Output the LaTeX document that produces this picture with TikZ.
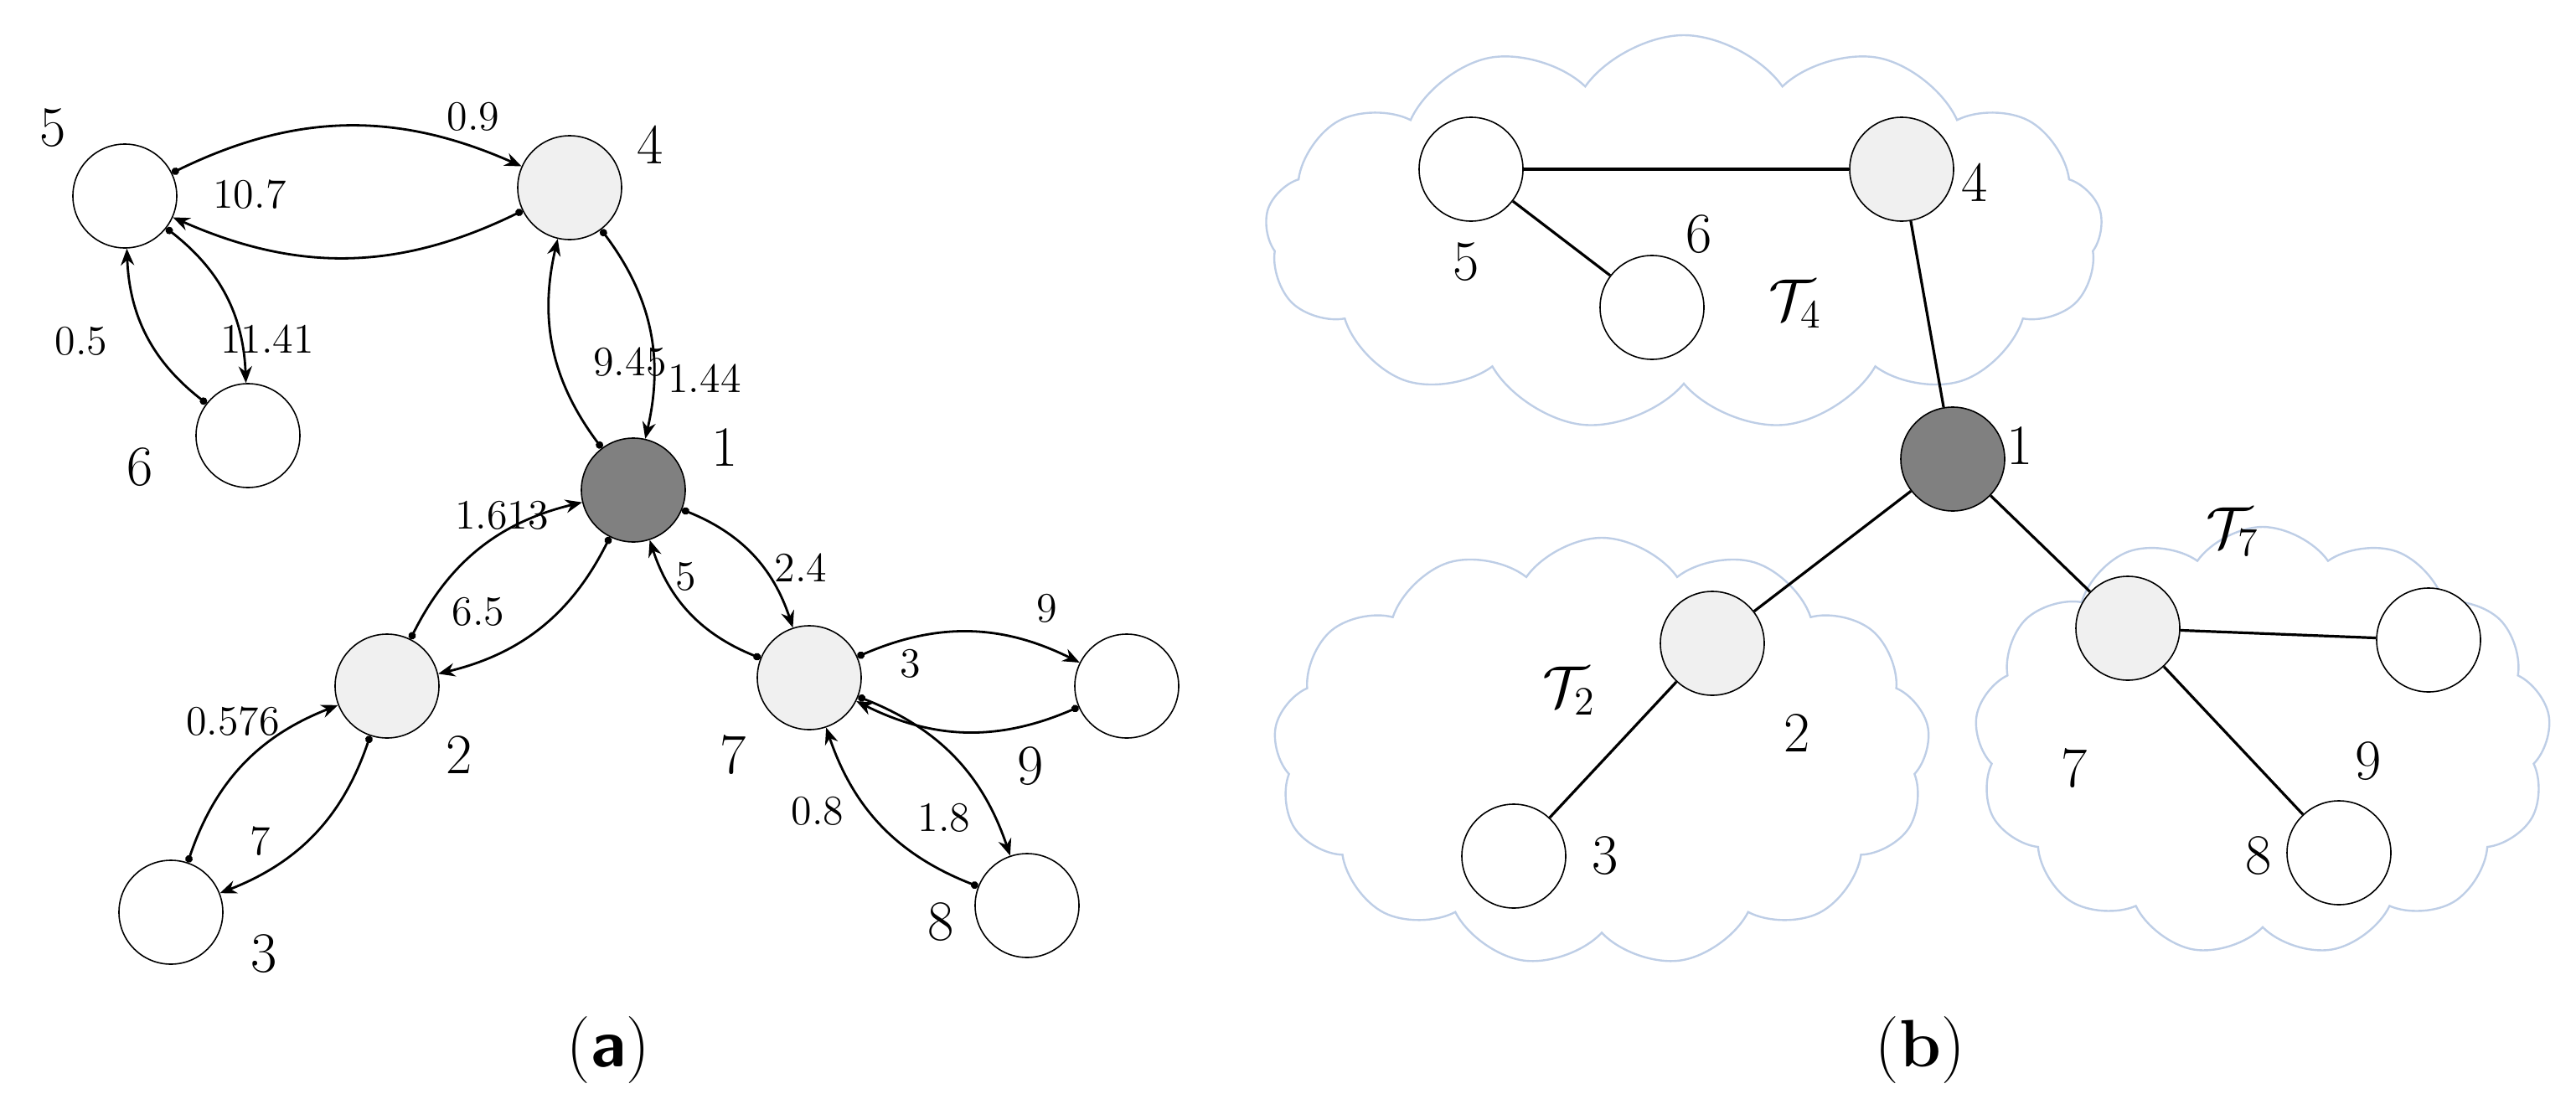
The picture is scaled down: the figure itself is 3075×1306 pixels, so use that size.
\documentclass[tikz,border=0pt]{standalone}
\usetikzlibrary{arrows.meta,shapes.symbols}
\begin{document}
\begin{tikzpicture}[x=0.25pt,y=-0.25pt,
  vtx/.style={circle,draw,line width=0.4pt,minimum size=31pt,inner sep=0pt,fill=white},
  lg/.style={vtx,fill=black!6},
  dk/.style={vtx,fill=black!50},
  lab/.style={font=\fontsize{17}{20}\selectfont},
  elab/.style={font=\fontsize{12.5}{15}\selectfont},
  arc/.style={line width=0.7pt,{Circle[length=2.2pt]}-{Stealth[length=5pt,width=4pt]},bend left=25},
  tree/.style={line width=0.8pt},
  cl/.style={cloud,cloud puffs=13,cloud puff arc=110,aspect=1.6,draw={rgb,255:red,190;green,206;blue,230},line width=0.6pt,inner sep=0pt}]
\useasboundingbox (0,0) rectangle (3075,1306);
% ---- (a)
\node[vtx] (a5) at (149,234) {};
\node[lg] (a4) at (680,224) {};
\node[vtx] (a6) at (296,520) {};
\node[dk] (a1) at (756,585) {};
\node[lg] (a2) at (462,819) {};
\node[lg] (a7) at (966,809) {};
\node[vtx] (a9) at (1345,819) {};
\node[vtx] (a3) at (204,1089) {};
\node[vtx] (a8) at (1226,1081) {};
\draw[arc] (a5) to (a4);
\draw[arc] (a4) to (a5);
\draw[arc] (a5) to (a6);
\draw[arc] (a6) to (a5);
\draw[arc] (a1) to (a4);
\draw[arc] (a4) to (a1);
\draw[arc] (a2) to (a1);
\draw[arc] (a1) to (a2);
\draw[arc] (a1) to (a7);
\draw[arc] (a7) to (a1);
\draw[arc] (a7) to (a9);
\draw[arc] (a9) to (a7);
\draw[arc] (a7) to (a8);
\draw[arc] (a8) to (a7);
\draw[arc] (a3) to (a2);
\draw[arc] (a2) to (a3);
\node[elab] (l1) at (565,139) {0.9};
\node[elab] (l2) at (298,232) {10.7};
\node[elab] (l3) at (319,405) {11.41};
\node[elab] (l4) at (97,407) {0.5};
\node[elab] (l5) at (752,432) {9.45};
\node[elab] (l6) at (841,452) {1.44};
\node[elab] (l7) at (599,615) {1.613};
\node[elab] (l8) at (571,730) {6.5};
\node[elab] (l9) at (819,688) {5};
\node[elab] (l10) at (956,678) {2.4};
\node[elab] (l11) at (1250,726) {9};
\node[elab] (l12) at (1087,792) {3};
\node[elab] (l13) at (278,861) {0.576};
\node[elab] (l14) at (311,1004) {7};
\node[elab] (l15) at (976,968) {0.8};
\node[elab] (l16) at (1127,976) {1.8};
\node[lab] (n5) at (63,153) {5};
\node[lab] (n4) at (776,173) {4};
\node[lab] (n6) at (167,558) {6};
\node[lab] (n1) at (865,534) {1};
\node[lab] (n2) at (548,901) {2};
\node[lab] (n7) at (875,901) {7};
\node[lab] (n9) at (1230,915) {9};
\node[lab] (n3) at (315,1139) {3};
\node[lab] (n8) at (1123,1101) {8};
\node[font=\fontsize{20}{24}\selectfont] (capa) at (726,1254) {(\textbf{\textsf{a}})};
% ---- (b)
\node[cl,minimum width=250pt,minimum height=118pt] (c4) at (2010,278) {};
\node[cl,minimum width=196pt,minimum height=128pt] (c2) at (1912,898) {};
\node[cl,minimum width=172pt,minimum height=128pt] (c7) at (2701,885) {};
\node[vtx] (b5) at (1756,202) {};
\node[lg] (b4) at (2270,202) {};
\node[vtx] (b6) at (1972,367) {};
\node[dk] (b1) at (2331,548) {};
\node[lg] (b2) at (2044,768) {};
\node[lg] (b7) at (2540,750) {};
\node[vtx] (b9) at (2899,764) {};
\node[vtx] (b3) at (1807,1022) {};
\node[vtx] (b8) at (2792,1018) {};
\draw[tree] (b5) -- (b4);
\draw[tree] (b5) -- (b6);
\draw[tree] (b4) -- (b1);
\draw[tree] (b1) -- (b2);
\draw[tree] (b1) -- (b7);
\draw[tree] (b2) -- (b3);
\draw[tree] (b7) -- (b9);
\draw[tree] (b7) -- (b8);
\node[lab] (m5) at (1750,313) {5};
\node[lab] (m4) at (2357,218) {4};
\node[lab] (m6) at (2028,280) {6};
\node[lab] (m1) at (2411,532) {1};
\node[lab] (m2) at (2145,875) {2};
\node[lab] (m7) at (2476,917) {7};
\node[lab] (m9) at (2827,909) {9};
\node[lab] (m3) at (1916,1022) {3};
\node[lab] (m8) at (2696,1022) {8};
\node[lab] (t4) at (2143,363) {$\mathcal{T}_4$};
\node[lab] (t7) at (2665,635) {$\mathcal{T}_7$};
\node[lab] (t2) at (1873,825) {$\mathcal{T}_2$};
\node[font=\fontsize{20}{24}\selectfont] (capb) at (2292,1254) {(\textbf{b})};
\end{tikzpicture}
\end{document}
